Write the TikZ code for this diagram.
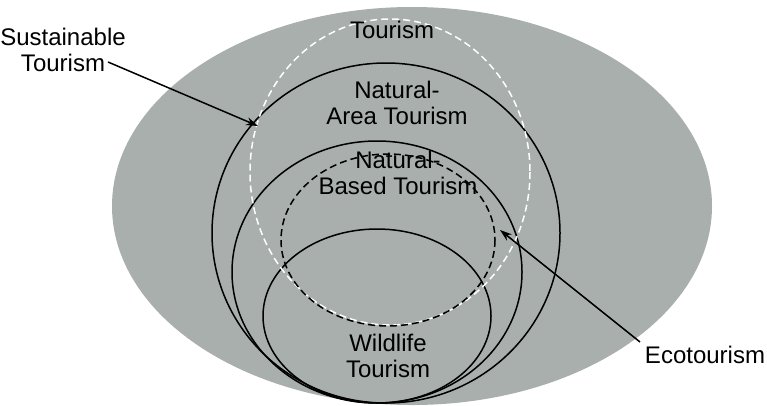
\documentclass[tikz,border=0pt]{standalone}
\usepackage{fontspec}
\setmainfont{Liberation Sans}
\usetikzlibrary{arrows.meta}
\begin{document}
\begin{tikzpicture}[x=1pt,y=-1pt,
  lab/.style={font=\fontsize{24}{26}\selectfont,align=center,inner sep=0pt},
  ring/.style={draw=black,line width=1.5pt},
  dsh/.style={line width=1.5pt,dash pattern=on 7pt off 4pt},
  arr/.style={draw=black,line width=1.5pt,-{Stealth[length=12pt,width=8pt]}}]
\useasboundingbox (0,0) rectangle (767,405);
\clip (0,0) rectangle (767,405);
\fill[fill={rgb,255:red,168;green,175;blue,172}] (412,206) ellipse [x radius=300,y radius=199];
\draw[ring] (386,233) ellipse [x radius=174,y radius=170];
\draw[ring] (377,272) ellipse [x radius=145,y radius=131];
\draw[ring] (377,316) ellipse [x radius=114,y radius=87];
\draw[white,dsh] (390,172) ellipse [x radius=140,y radius=153];
\draw[black,dsh] (388,240) ellipse [x radius=107,y radius=86];
\node[lab] (t) at (392,30) {Tourism};
\node[lab] (na) at (397,103) {Natural-\\Area Tourism};
\node[lab] (nb) at (398,173) {Natural-\\Based Tourism};
\node[lab] (w) at (388,356) {Wildlife\\Tourism};
\node[lab] (s) at (63,50) {Sustainable\\Tourism};
\node[lab] (e) at (705,355) {Ecotourism};
\coordinate (sa) at (258,126);
\coordinate (ea) at (500,230);
\coordinate (s0) at (108,62);
\coordinate (e0) at (640,342);
\draw[arr] (s0) -- (sa);
\draw[arr] (e0) -- (ea);
\end{tikzpicture}
\end{document}
